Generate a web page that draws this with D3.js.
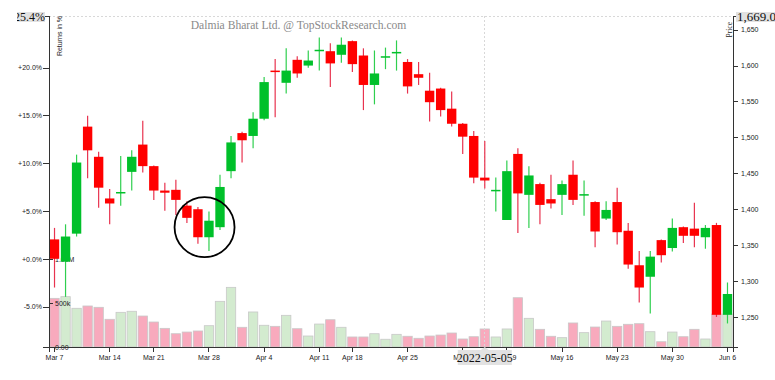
<!DOCTYPE html>
<meta charset="utf-8">
<style>
body { margin: 0; background: #fff; }
.axis path, .axis line { fill: none; stroke: #333; shape-rendering: crispEdges; }
.axis text { font: 7px Arial, "Liberation Sans", sans-serif; fill: #222; }
.title { font: 11.6px "Liberation Serif", "Times New Roman", serif; fill: #8a8a8a; }
.crosshair { stroke: #d8d8d8; stroke-dasharray: 2,2; shape-rendering: crispEdges; }
.annot text { font: 12px "Liberation Serif", "Times New Roman", serif; fill: #111; }
</style>
<svg id="chart" width="775" height="380"></svg>
<script src="https://cdnjs.cloudflare.com/ajax/libs/d3/7.8.5/d3.min.js"></script>
<script>

// Daily OHLC + volume
var dates = ["2022-03-07","2022-03-08","2022-03-09","2022-03-10","2022-03-11",
  "2022-03-14","2022-03-15","2022-03-16","2022-03-17",
  "2022-03-21","2022-03-22","2022-03-23","2022-03-24","2022-03-25",
  "2022-03-28","2022-03-29","2022-03-30","2022-03-31","2022-04-01",
  "2022-04-04","2022-04-05","2022-04-06","2022-04-07","2022-04-08",
  "2022-04-11","2022-04-12","2022-04-13",
  "2022-04-18","2022-04-19","2022-04-20","2022-04-21","2022-04-22",
  "2022-04-25","2022-04-26","2022-04-27","2022-04-28","2022-04-29",
  "2022-05-02","2022-05-04","2022-05-05","2022-05-06",
  "2022-05-09","2022-05-10","2022-05-11","2022-05-12","2022-05-13",
  "2022-05-16","2022-05-17","2022-05-18","2022-05-19","2022-05-20",
  "2022-05-23","2022-05-24","2022-05-25","2022-05-26","2022-05-27",
  "2022-05-30","2022-05-31","2022-06-01","2022-06-02","2022-06-03",
  "2022-06-06"];

var open  = [1358,1327,1366,1515,1473, 1415,1422,1452,1490, 1460,1426,1427,1405,1400,
  1361,1375,1453,1506,1502, 1526,1593,1576,1608,1600, 1620,1620,1615,
  1634,1614,1573,1611,1617, 1605,1588,1565,1568,1540, 1519,1502,1444,1425,
  1385,1477,1420,1435,1414, 1420,1448,1419,1410,1387, 1410,1370,1322,1306,1357,
  1346,1375,1373,1361,1378, 1253];
var high  = [1374,1379,1476,1530,1480, 1428,1474,1482,1523, 1461,1437,1441,1411,1403,
  1397,1448,1502,1508,1535, 1584,1609,1624,1613,1621, 1639,1631,1639,
  1635,1624,1621,1625,1635, 1609,1605,1590,1569,1564, 1520,1509,1495,1444,
  1468,1485,1460,1437,1448, 1440,1468,1440,1411,1411, 1430,1381,1342,1342,1358,
  1387,1376,1409,1378,1381, 1298];
var low   = [1291,1278,1362,1443,1402, 1379,1405,1426,1451, 1413,1398,1392,1381,1352,
  1342,1371,1443,1465,1485, 1524,1528,1561,1583,1597, 1593,1570,1604,
  1591,1538,1546,1595,1593, 1561,1573,1522,1529,1515, 1477,1436,1429,1397,
  1385,1367,1374,1379,1401, 1392,1406,1391,1347,1385, 1351,1317,1270,1255,1326,
  1341,1353,1347,1345,1250, 1241];
var close = [1331,1362,1465,1482,1430, 1408,1424,1473,1460, 1426,1423,1413,1388,1361,
  1384,1431,1493,1496,1526, 1577,1592,1593,1589,1607, 1622,1603,1629,
  1602,1573,1589,1613,1619, 1571,1583,1549,1538,1519, 1501,1444,1440,1427,
  1453,1422,1447,1406,1408, 1435,1413,1421,1369,1399, 1368,1323,1291,1334,1336,
  1374,1363,1363,1374,1253, 1282];
var volume = [553000,572000,440000,466000,451000, 315000,394000,406000,352000,
  284000,212000,151000,170000,182000, 242000,519000,678000,224000,398000,
  247000,235000,360000,208000,125000, 261000,310000,224000,
  114000,114000,151000,88000,144000, 122000,99000,125000,136000,159000,
  91000,117000,205000,114000, 205000,560000,326000,201000,122000,
  106000,273000,163000,227000,295000, 235000,258000,265000,174000,60000,
  170000,117000,201000,91000,375000, 375000];

var tickDates = ["2022-03-07","2022-03-14","2022-03-21","2022-03-28","2022-04-04",
  "2022-04-11","2022-04-18","2022-04-25","2022-05-02","2022-05-09","2022-05-16",
  "2022-05-23","2022-05-30","2022-06-06"];
var returnTicks = [20, 15, 10, 5, 0, -5];
var priceTicks = [1650, 1600, 1550, 1500, 1450, 1400, 1350, 1300, 1250];
var volumeTicks = [0, 500000, 1000000];

var titleText = "Dalmia Bharat Ltd. @ TopStockResearch.com";
var crossDate = "2022-05-05", crossPrice = 1669.0;
var circleAt = {index: 13.6, price: 1375};

var svg = d3.select("#chart"),
    margin = {left: 49, right: 733, top: 16, bottom: 347};

var parse = d3.timeParse("%Y-%m-%d");
var base = close[0];

var x = d3.scaleBand().domain(dates).range([margin.left, margin.right])
    .paddingInner(0.15).paddingOuter(0.075);
var bw = x.bandwidth();
function cx(d) { return x(d) + bw / 2; }

var y = d3.scaleLinear().domain([1208.2, 1669]).range([margin.bottom, margin.top]);
var yRet = d3.scaleLinear()
    .domain(y.domain().map(function(p) { return (p / base - 1) * 100; }))
    .range([margin.bottom, margin.top]);
var yVol = d3.scaleLinear().domain([0, 1000000]).range([margin.bottom, 259]);

var data = dates.map(function(d, i) {
  return {date: d, o: open[i], h: high[i], l: low[i], c: close[i], v: volume[i]};
});

// volume
svg.append("g").selectAll("rect")
    .data(data)
  .enter().append("rect")
    .attr("x", function(d) { return x(d.date); })
    .attr("width", bw)
    .attr("y", function(d) { return yVol(d.v); })
    .attr("height", function(d) { return margin.bottom - yVol(d.v); })
    .attr("fill", function(d) { return d.c >= d.o ? "#d3ebcf" : "#f8aabd"; })
    .attr("stroke", "#c8c8c8")
    .attr("stroke-width", 0.8);

svg.append("g")
    .attr("class", "axis")
    .attr("transform", "translate(" + margin.left + ",0)")
    .call(d3.axisRight(yVol).tickValues(volumeTicks).tickSize(4).tickPadding(2)
      .tickFormat(d3.format(".3s")))
    .call(function(g) { g.select(".domain").remove(); });

// crosshair
svg.append("line").attr("class", "crosshair")
    .attr("x1", margin.left).attr("x2", margin.right)
    .attr("y1", y(crossPrice) + 0.5).attr("y2", y(crossPrice) + 0.5);
svg.append("line").attr("class", "crosshair")
    .attr("x1", cx(crossDate)).attr("x2", cx(crossDate))
    .attr("y1", margin.top).attr("y2", margin.bottom);

// candles
var candle = svg.append("g").selectAll("g")
    .data(data)
  .enter().append("g");

candle.append("line")
    .attr("x1", function(d) { return cx(d.date); })
    .attr("x2", function(d) { return cx(d.date); })
    .attr("y1", function(d) { return y(d.h); })
    .attr("y2", function(d) { return y(d.l); })
    .attr("stroke", function(d) { return d.c >= d.o ? "#2fcf4f" : "#e8334f"; })
    .attr("stroke-width", 1.2);

candle.append("rect")
    .attr("x", function(d) { return x(d.date); })
    .attr("width", bw)
    .attr("y", function(d) { return y(Math.max(d.o, d.c)); })
    .attr("height", function(d) { return Math.max(1.5, Math.abs(y(d.o) - y(d.c))); })
    .attr("fill", function(d) { return d.c >= d.o ? "#00c02a" : "#ff0000"; });

// axes
svg.append("g")
    .attr("class", "axis")
    .attr("transform", "translate(" + margin.left + ",0)")
    .call(d3.axisLeft(yRet).tickValues(returnTicks).tickSize(6).tickPadding(1)
      .tickFormat(function(v) { return (v < 0 ? "-" : "+") + Math.abs(v).toFixed(1) + "%"; }));

svg.append("g")
    .attr("class", "axis")
    .attr("transform", "translate(" + margin.right + ",0)")
    .call(d3.axisRight(y).tickValues(priceTicks).tickSize(5).tickPadding(3)
      .tickFormat(d3.format(",")));

var fmt = d3.timeFormat("%b %-d");
svg.append("g")
    .attr("class", "axis")
    .attr("transform", "translate(0," + margin.bottom + ")")
    .call(d3.axisBottom(x).tickValues(tickDates).tickSize(5).tickPadding(3)
      .tickFormat(function(d) { return fmt(parse(d)); }));

svg.append("text")
    .attr("transform", "translate(62," + margin.top + ") rotate(-90)")
    .attr("text-anchor", "end")
    .style("font", "7px Arial, sans-serif").style("fill", "#222")
    .text("Returns in %");

svg.append("text")
    .attr("transform", "translate(732,22) rotate(-90)")
    .attr("text-anchor", "end")
    .style("font", "7.5px 'Liberation Serif', serif").style("fill", "#222")
    .text("Price");

svg.append("text")
    .attr("class", "title")
    .attr("x", 298.5).attr("y", 28.5)
    .attr("text-anchor", "middle")
    .text(titleText);

// annotation circle
var step = x.step();
svg.append("circle")
    .attr("cx", cx(dates[0]) + circleAt.index * step)
    .attr("cy", y(circleAt.price))
    .attr("r", 30)
    .attr("fill", "none")
    .attr("stroke", "#000")
    .attr("stroke-width", 1.8);

// crosshair value tags
svg.append("clipPath").attr("id", "lclip")
  .append("rect").attr("x", 17).attr("y", 0).attr("width", 40).attr("height", 40);

var annot = svg.append("g").attr("class", "annot");
var ly = y(crossPrice);
annot.append("rect").attr("x", 17).attr("y", ly - 4).attr("width", 28).attr("height", 10).attr("fill", "#e2e2e2");
annot.append("text").attr("x", 45).attr("y", ly + 5)
    .attr("text-anchor", "end")
    .attr("clip-path", "url(#lclip)")
    .text(yRet.invert(ly).toFixed(1) + "%");

annot.append("rect").attr("x", margin.right + 3).attr("y", ly - 4).attr("width", 45).attr("height", 10).attr("fill", "#e2e2e2");
annot.append("text").attr("x", margin.right + 4).attr("y", ly + 5)
    .style("font-size", "13px")
    .text(d3.format(",.1f")(crossPrice));

var bx = cx(crossDate);
annot.append("path")
    .attr("d", "M" + (bx - 27) + "," + (margin.bottom + 3) + "H" + (bx - 4) + "l4,-3l4,3H" + (bx + 27) +
      "V" + (margin.bottom + 18) + "H" + (bx - 27) + "Z")
    .attr("fill", "#e2e2e2");
annot.append("text").attr("x", bx).attr("y", margin.bottom + 15)
    .attr("text-anchor", "middle")
    .text(crossDate);

</script>
